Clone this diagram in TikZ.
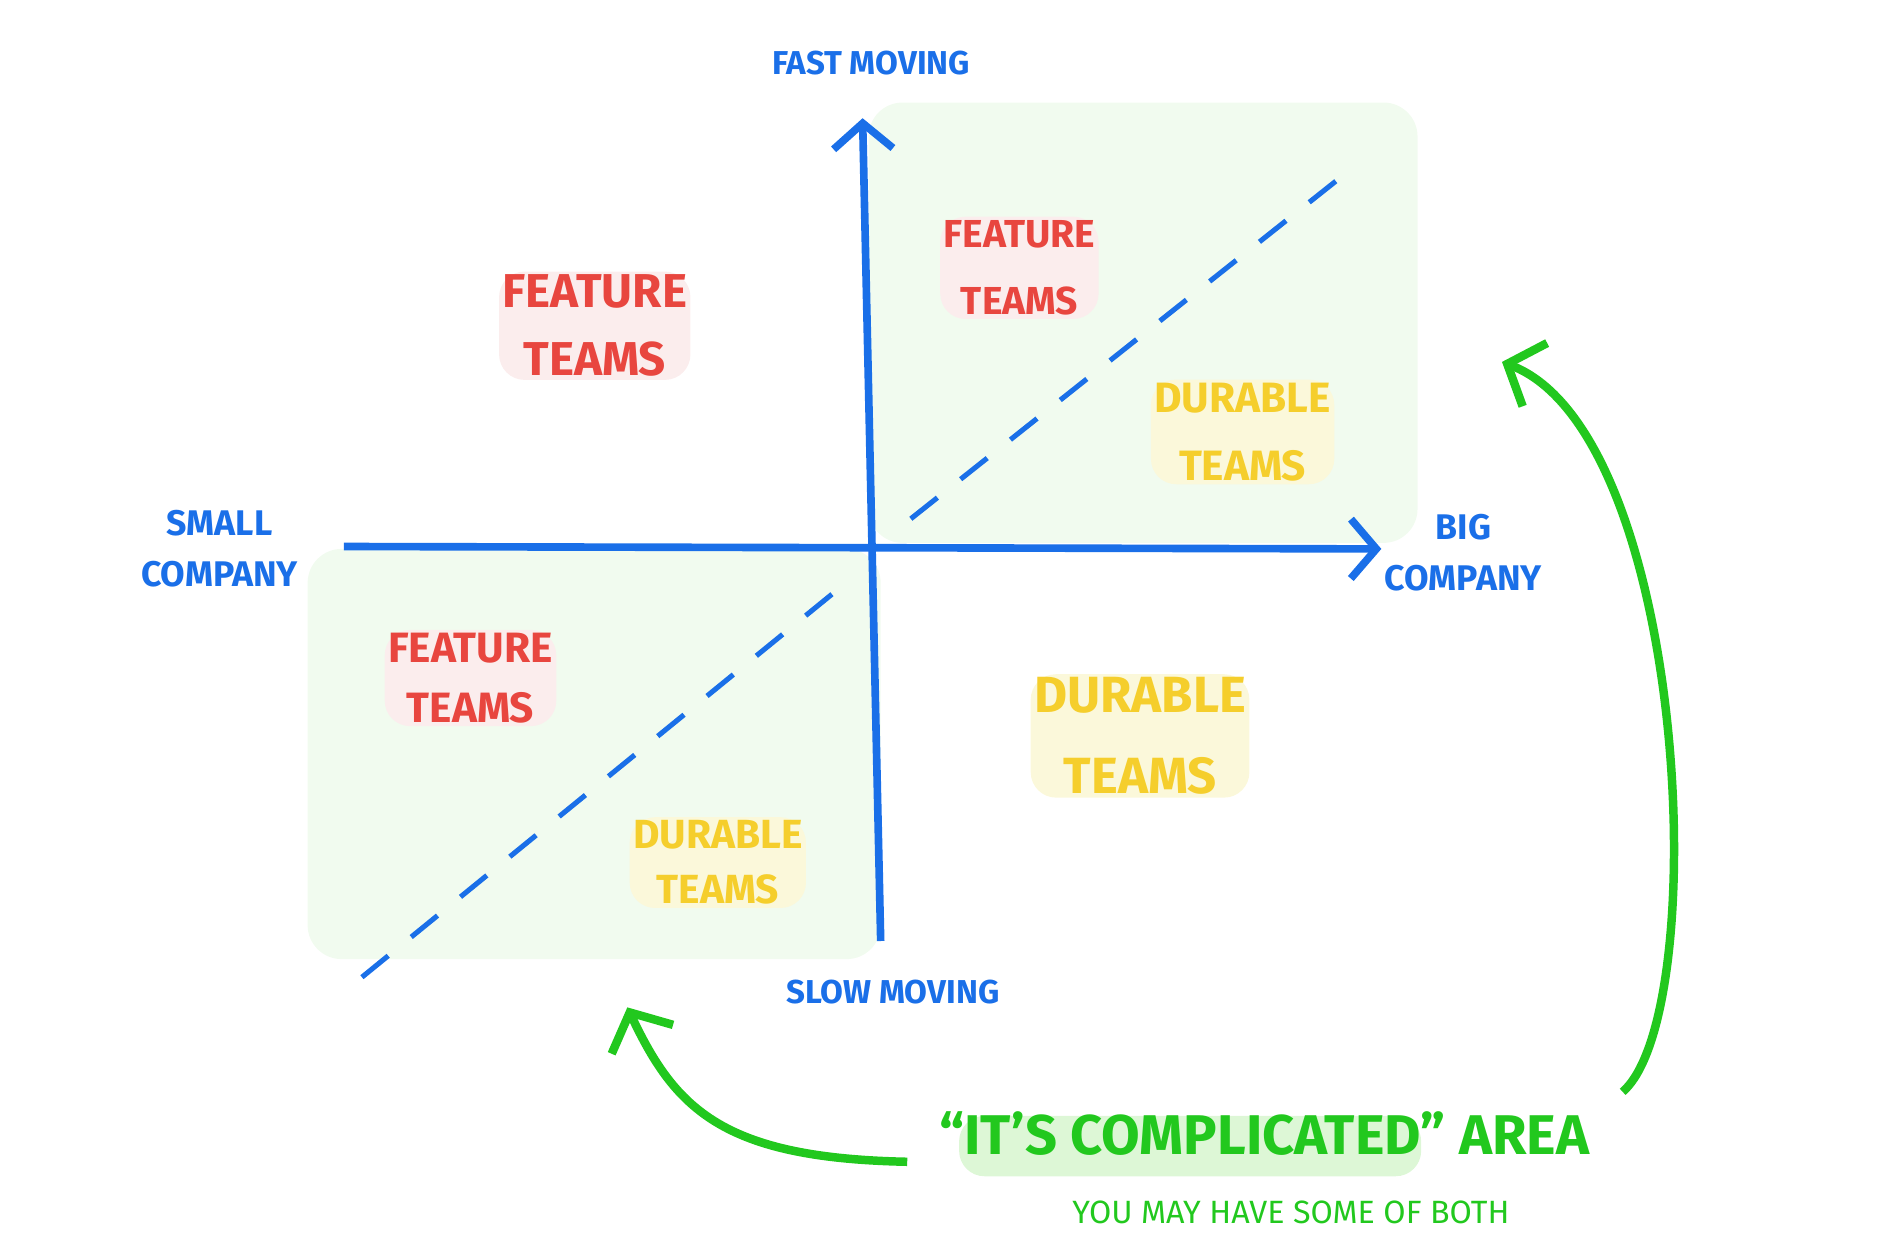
\documentclass[tikz,border=0pt]{standalone}
\usepackage{fontspec}
\setmainfont{Fira Sans}
\usetikzlibrary{arrows.meta}
\definecolor{axblue}{HTML}{1A6FE8}
\definecolor{fred}{HTML}{E8463F}
\definecolor{dyel}{HTML}{F5CE2C}
\definecolor{cgreen}{HTML}{22C81E}
\definecolor{zone}{HTML}{F1FBEF}
\definecolor{pinkbg}{HTML}{FBEDED}
\definecolor{yelbg}{HTML}{FBF8DA}
\definecolor{grnbg}{HTML}{DDF7D6}
\tikzset{
 axis/.style={draw=axblue,line width=9pt,-{Straight Barb[length=30pt,width=70pt]}},
 diag/.style={draw=axblue,line width=6pt,dash pattern=on 40pt off 35pt},
 axlabel/.style={text=axblue,align=center},
 feat/.style={text=fred,fill=pinkbg,rounded corners=30pt,inner sep=4pt,align=center},
 dur/.style={text=dyel,fill=yelbg,rounded corners=30pt,inner sep=4pt,align=center},
 garrow/.style={draw=cgreen,line width=10pt,-{Straight Barb[length=35pt,width=80pt]}},
}
\begin{document}
\begin{tikzpicture}[x=0.05cm,y=-0.05cm]
\useasboundingbox (0,0) rectangle (1560,1044);
\fill[zone,rounded corners=40pt] (720,85) rectangle (1175,450);
\fill[zone,rounded corners=40pt] (255,455) rectangle (730,795);
\coordinate (d1a) at (300,810); \coordinate (d1b) at (705,480);
\coordinate (d2a) at (755,430); \coordinate (d2b) at (1110,148);
\draw[diag] (d1a) -- (d1b);
\draw[diag] (d2a) -- (d2b);
\coordinate (hx0) at (285,453); \coordinate (hx1) at (1145,455);
\coordinate (vy0) at (730,780); \coordinate (vy1) at (715,98);
\draw[axis] (hx0) -- (hx1);
\draw[axis] (vy0) -- (vy1);
\node[axlabel,font=\bfseries\fontsize{39}{44}\selectfont] (fast) at (722,52) {FAST MOVING};
\node[axlabel,font=\bfseries\fontsize{39}{44}\selectfont] (slow) at (740,822) {SLOW MOVING};
\node[axlabel,font=\bfseries\fontsize{42}{60}\selectfont] (small) at (182,455) {SMALL\\COMPANY};
\node[axlabel,font=\bfseries\fontsize{42}{60}\selectfont] (big) at (1213,458) {BIG\\COMPANY};
\node[feat,font=\bfseries\fontsize{56}{80}\selectfont] (f1) at (493,270) {FEATURE\\TEAMS};
\node[feat,font=\bfseries\fontsize{46}{80}\selectfont] (f2) at (845,222) {FEATURE\\TEAMS};
\node[feat,font=\bfseries\fontsize{50}{70}\selectfont] (f3) at (390,562) {FEATURE\\TEAMS};
\node[dur,font=\bfseries\fontsize{60}{95}\selectfont] (u1) at (945,610) {DURABLE\\TEAMS};
\node[dur,font=\bfseries\fontsize{50}{80}\selectfont] (u2) at (1030,358) {DURABLE\\TEAMS};
\node[dur,font=\bfseries\fontsize{48}{65}\selectfont] (u3) at (595,715) {DURABLE\\TEAMS};
\fill[grnbg,rounded corners=30pt] (795,925) rectangle (1178,975);
\node[text=cgreen,font=\bfseries\fontsize{66}{70}\selectfont] (area) at (1048,940) {“IT’S COMPLICATED” AREA};
\node[text=cgreen,font=\fontsize{38}{40}\selectfont] (sub) at (1070,1005) {YOU MAY HAVE SOME OF BOTH};
\coordinate (a1s) at (752,963); \coordinate (a1e) at (520,835);
\coordinate (a2s) at (1345,905); \coordinate (a2e) at (1245,300);
\draw[garrow] (a1s) .. controls (600,960) and (560,920) .. (a1e);
\draw[garrow] (a2s) .. controls (1420,840) and (1400,360) .. (a2e);
\end{tikzpicture}
\end{document}
